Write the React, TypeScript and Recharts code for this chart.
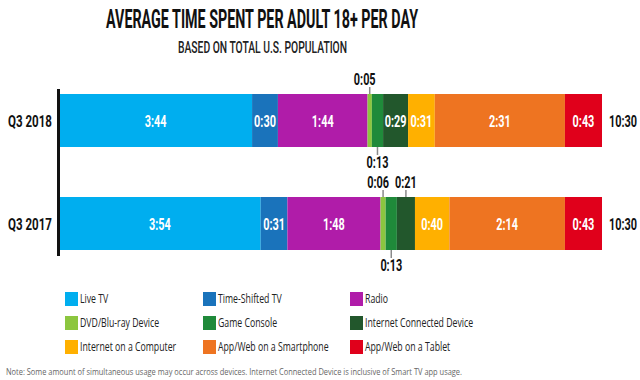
import React from "react";
import { BarChart, Bar, XAxis, YAxis, LabelList } from "recharts";

// ─── Data (minutes per day) ───────────────────────────────────────────────────
const quarters = ["Q3 2018", "Q3 2017"];
const liveTv = [224, 234];
const timeShiftedTv = [30, 31];
const radio = [104, 108];
const dvdBluray = [5, 6];
const gameConsole = [13, 13];
const internetConnected = [29, 21];
const internetComputer = [31, 40];
const appSmartphone = [151, 134];
const appTablet = [43, 43];

const SERIES = [
  { key: "liveTv", name: "Live TV", values: liveTv, color: "#00aeef" },
  { key: "timeShiftedTv", name: "Time-Shifted TV", values: timeShiftedTv, color: "#1a73bb" },
  { key: "radio", name: "Radio", values: radio, color: "#b01ca9" },
  { key: "dvdBluray", name: "DVD/Blu-ray Device", values: dvdBluray, color: "#8cc63f" },
  { key: "gameConsole", name: "Game Console", values: gameConsole, color: "#1f8a3a" },
  { key: "internetConnected", name: "Internet Connected Device", values: internetConnected, color: "#22572c" },
  { key: "internetComputer", name: "Internet on a Computer", values: internetComputer, color: "#ffb000" },
  { key: "appSmartphone", name: "App/Web on a Smartphone", values: appSmartphone, color: "#ee7421" },
  { key: "appTablet", name: "App/Web on a Tablet", values: appTablet, color: "#e0001b" },
];

// where the small segment labels go, one entry per quarter
const PLACEMENT: Record<string, string[]> = {
  dvdBluray: ["above", "above"],
  gameConsole: ["below", "below"],
  internetConnected: ["in", "above"],
};

const data = quarters.map((q, i) => {
  const row: Record<string, string | number> = { quarter: q };
  SERIES.forEach((s) => (row[s.key] = s.values[i]));
  return row;
});
const totals = quarters.map((_, i) => SERIES.reduce((a, s) => a + s.values[i], 0));
const MAX = Math.max(...totals);

const fmt = (m: number) => `${Math.floor(m / 60)}:${String(m % 60).padStart(2, "0")}`;

const COND = "Roboto, 'DejaVu Sans', sans-serif";
const BODY = "'Open Sans', 'Noto Sans', sans-serif";

function Cond({ x, y, anchor = "middle", size = 17, sx = 0.64, fill = "#fff", children }: any) {
  return (
    <text
      transform={`translate(${x},${y}) scale(${sx},1)`}
      textAnchor={anchor}
      fontSize={size}
      fontWeight={700}
      fontFamily={COND}
      fill={fill}
    >
      {children}
    </text>
  );
}

const segLabel = (key: string) => (props: any) => {
  const x = Number(props.x), y = Number(props.y);
  const w = Number(props.width), h = Number(props.height);
  const place = PLACEMENT[key]?.[props.index] ?? "in";
  const cx = x + w / 2;
  const text = fmt(Number(props.value));
  if (place === "in") {
    return <Cond x={cx} y={y + h / 2 + 6.5}>{text}</Cond>;
  }
  if (place === "above") {
    const dx = key === "dvdBluray" ? -5 : 0;
    return (
      <g>
        <line x1={cx} x2={cx} y1={y - 7} y2={y} stroke="#8a8a8a" strokeWidth={1.5} />
        <Cond x={cx + dx} y={y - 9} fill="#111">{text}</Cond>
      </g>
    );
  }
  return (
    <g>
      <line x1={cx} x2={cx} y1={y + h} y2={y + h + 8} stroke="#8a8a8a" strokeWidth={1.5} />
      <Cond x={cx} y={y + h + 21} fill="#111">{text}</Cond>
    </g>
  );
};

const totalLabel = (props: any) => {
  const x = Number(props.x), y = Number(props.y);
  const w = Number(props.width), h = Number(props.height);
  return (
    <Cond x={x + w + 7} y={y + h / 2 + 6.5} anchor="start" fill="#111">
      {fmt(totals[props.index])}
    </Cond>
  );
};

const QuarterTick = ({ y, payload }: any) => (
  <Cond x={52} y={Number(y) + 6} anchor="end" size={17} sx={0.68} fill="#111">
    {payload.value}
  </Cond>
);

const LEGEND_COLS = [65, 203, 350];
const LEGEND_ROWS = [292, 316, 340];

export default function App() {
  return (
    <div style={{ position: "absolute", left: 0, top: 0, width: 640, height: 380, background: "#fff" }}>
      <BarChart
        width={640}
        height={380}
        data={data}
        layout="vertical"
        margin={{ top: 69, right: 38, bottom: 105, left: 0 }}
      >
        <XAxis type="number" hide domain={[0, MAX]} />
        <YAxis
          type="category"
          dataKey="quarter"
          width={59}
          axisLine={false}
          tickLine={false}
          tick={<QuarterTick />}
        />
        {SERIES.map((s) => (
          <Bar
            key={s.key}
            dataKey={s.key}
            name={s.name}
            stackId="t"
            fill={s.color}
            barSize={53}
            isAnimationActive={false}
          >
            <LabelList dataKey={s.key} content={segLabel(s.key)} />
            {s.key === "appTablet" && <LabelList dataKey={s.key} content={totalLabel} />}
          </Bar>
        ))}
      </BarChart>

      <svg
        width={640}
        height={380}
        style={{ position: "absolute", left: 0, top: 0, pointerEvents: "none" }}
      >
        <text
          x={106}
          y={28}
          fontSize={26}
          fontWeight={700}
          fontFamily={COND}
          fill="#111"
          textLength={312}
          lengthAdjust="spacingAndGlyphs"
        >
          AVERAGE TIME SPENT PER ADULT 18+ PER DAY
        </text>
        <text
          x={178}
          y={53}
          fontSize={16.5}
          fontWeight={500}
          fontFamily={COND}
          fill="#222"
          textLength={169}
          lengthAdjust="spacingAndGlyphs"
        >
          BASED ON TOTAL U.S. POPULATION
        </text>

        <line x1={58.5} x2={58.5} y1={89} y2={256} stroke="#111" strokeWidth={3} />

        {SERIES.map((s, i) => {
          const x = LEGEND_COLS[i % 3];
          const y = LEGEND_ROWS[Math.floor(i / 3)];
          return (
            <g key={s.key}>
              <rect x={x} y={y} width={13} height={14} fill={s.color} />
              <text
                transform={`translate(${x + 15},${y + 10.5}) scale(0.7,1)`}
                fontSize={12.5}
                fontFamily={BODY}
                fill="#222"
              >
                {s.name}
              </text>
            </g>
          );
        })}

        <text
          x={6}
          y={375}
          fontSize={9.5}
          fontFamily={BODY}
          fill="#666"
          textLength={456}
          lengthAdjust="spacingAndGlyphs"
        >
          Note: Some amount of simultaneous usage may occur across devices. Internet Connected Device is inclusive of Smart TV app usage.
        </text>
      </svg>
    </div>
  );
}
